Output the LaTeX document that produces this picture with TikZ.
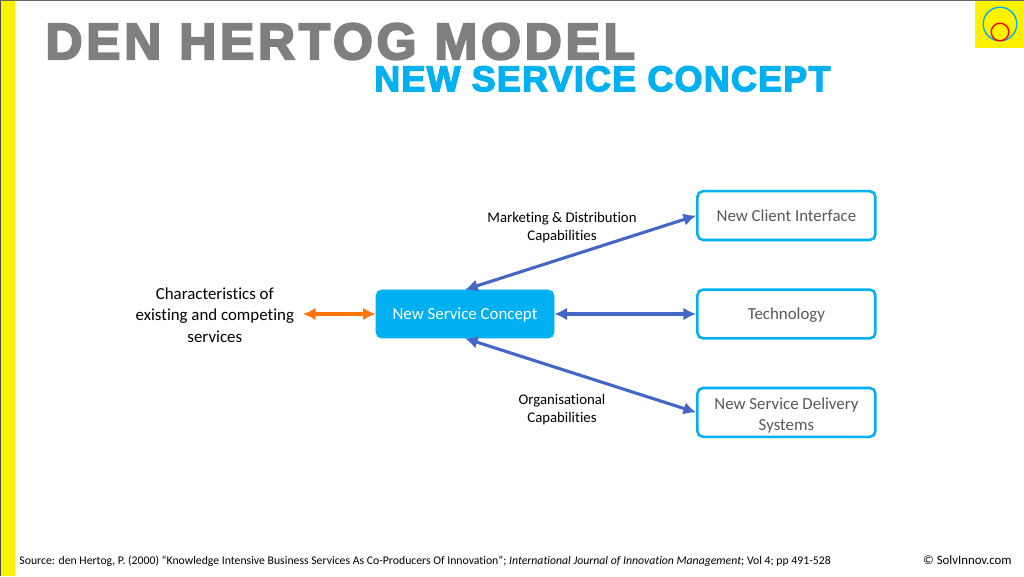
\documentclass[tikz,border=0pt]{standalone}
\usepackage{fontspec}
\setmainfont[Ligatures=NoCommon]{Carlito}
\newfontfamily\titlefont[FakeBold=4,LetterSpace=7.3]{Liberation Sans Bold}
\newfontfamily\subtitlefont[FakeBold=3.5,LetterSpace=3.6]{Liberation Sans Bold}
\usepackage{xcolor}
\definecolor{svcyan}{RGB}{0,176,240}
\definecolor{svblue}{RGB}{68,103,199}
\definecolor{svorange}{RGB}{255,117,10}
\definecolor{svgrey}{RGB}{127,127,127}
\definecolor{svtext}{RGB}{89,89,89}
\usetikzlibrary{arrows.meta,positioning}
\tikzset{
  outbox/.style={draw=svcyan, fill=white, line width=1.8pt, rounded corners=4pt, minimum width=4.45cm, minimum height=1.22cm, inner ysep=0pt, align=center, text=svtext, font=\fontsize{12}{14.8}\selectfont},
  lbl/.style={align=center, text=black, font=\fontsize{10.5}{12.8}\selectfont},
  link/.style={draw=svblue, line width=2.2pt, {Latex[length=9pt,width=9pt]}-{Latex[length=9pt,width=9pt]}}
}
\begin{document}
\begin{tikzpicture}
  \useasboundingbox (0,0) rectangle (25.6,14.4);
  \fill[white] (0,0) rectangle (25.6,14.4);
  \fill[yellow] (0,0) rectangle (0.38,14.4);
  \fill[black!70] (0,0) rectangle (0.03,14.4);
  \draw[black!60, line width=0.3pt] (0,14.39) -- (25.6,14.39);
  % logo
  \fill[yellow] (24.38,13.2) rectangle (25.6,14.37);
  \draw[svcyan, line width=1pt] (25,13.8) circle (0.42);
  \draw[red, line width=1pt] (25,13.6) circle (0.22);
  % titles
  \node[anchor=base west, inner sep=0pt, text=svgrey, font=\fontsize{36.5}{37}\titlefont] (title) at (1.13,12.92) {DEN HERTOG MODEL};
  \node[anchor=base west, inner sep=0pt, text=svcyan, font=\fontsize{25.5}{26}\subtitlefont] (subtitle) at (9.35,12.12) {NEW SERVICE CONCEPT};
  % boxes
  \node[draw=svcyan, fill=svcyan, rounded corners=4pt, line width=0.5pt, minimum width=4.45cm, minimum height=1.2cm, text height=9.8pt, text=white, font=\fontsize{12}{14.8}\selectfont] (concept) at (11.625,6.55) {New Service Concept};
  \node[outbox] (client) at (19.66,9.01) {New Client Interface};
  \node[outbox, text height=9.8pt] (tech) at (19.66,6.55) {Technology};
  \node[outbox] (delivery) at (19.66,4.09) {\rule{0pt}{13pt}New Service Delivery\\Systems};
  % labels
  \node[lbl, font=\fontsize{12}{15}\selectfont] (chars) at (5.37,6.52) {Characteristics of\\existing and competing\\services};
  \node[lbl] (mktg) at (14.05,8.71) {Marketing \& Distribution\\Capabilities};
  \node[lbl] (orgcap) at (14.05,4.16) {Organisational\\Capabilities};
  % links
  \draw[link] (concept.north) -- (client.west);
  \draw[link] (concept.east) -- (tech.west);
  \draw[link] (concept.south) -- (delivery.west);
  \draw[link, draw=svorange] ([xshift=0.1cm]chars.east |- concept.west) -- (concept.west);
  % footer
  \node[anchor=base west, inner sep=0pt, font=\fontsize{8.35}{10}\selectfont] (source) at (0.48,0.3) {Source: den Hertog, P. (2000) “Knowledge Intensive Business Services As Co-Producers Of Innovation”; \textit{International Journal of Innovation Management}; Vol 4; pp 491-528};
  \node[anchor=base east, inner sep=0pt, font=\fontsize{9.1}{10}\selectfont] (copy) at (25.3,0.3) {© SolvInnov.com};
\end{tikzpicture}
\end{document}
